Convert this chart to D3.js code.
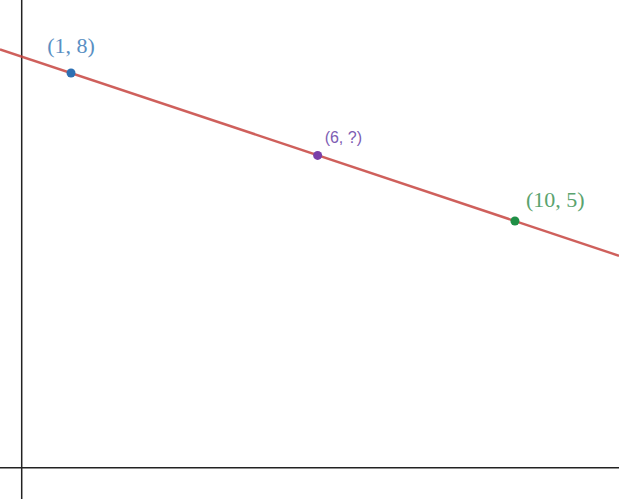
<!DOCTYPE html>
<html>
<head>
<meta charset="utf-8">
<script src="https://cdn.jsdelivr.net/npm/d3@7"></script>
<style>
  body { margin: 0; background: #fff; }
  svg { display: block; }
</style>
</head>
<body>
<div id="graph"></div>
<script>
var svgWidth = 619;
var svgHeight = 499;

// points on the line
var pointX = [1, 6, 10];
var pointY = [8, 6.33, 5];
var pointLabels = ["(1, 8)", "(6, ?)", "(10, 5)"];

// line passes through these two points
var lineX = [1, 10];
var lineY = [8, 5];

var xDomain = [-0.44, 12.11];
var yDomain = [-0.635, 9.48];

var dotColors = ["#2d70b3", "#7b3fa8", "#1f8f46"];
var labelColors = ["#5a8fc3", "#7d5db3", "#5aa36e"];

var svg = d3.select("#graph")
    .append("svg")
    .attr("width", svgWidth)
    .attr("height", svgHeight);

var xScale = d3.scaleLinear().domain(xDomain).range([0, svgWidth]);
var yScale = d3.scaleLinear().domain(yDomain).range([svgHeight, 0]);

// axes (no ticks, just the lines)
svg.append("line")
    .attr("x1", xScale(0)).attr("x2", xScale(0))
    .attr("y1", 0).attr("y2", svgHeight)
    .attr("stroke", "#222").attr("stroke-width", 1.5);

svg.append("line")
    .attr("x1", 0).attr("x2", svgWidth)
    .attr("y1", yScale(0)).attr("y2", yScale(0))
    .attr("stroke", "#222").attr("stroke-width", 1.5);

// extend line to the edges of the view
var slope = (lineY[1] - lineY[0]) / (lineX[1] - lineX[0]);
var yAt = x => lineY[0] + slope * (x - lineX[0]);

svg.append("line")
    .attr("x1", xScale(xDomain[0])).attr("y1", yScale(yAt(xDomain[0])))
    .attr("x2", xScale(xDomain[1])).attr("y2", yScale(yAt(xDomain[1])))
    .attr("stroke", "#c74440")
    .attr("stroke-opacity", 0.85)
    .attr("stroke-width", 2.5);

var points = pointX.map((x, i) => ({x: x, y: pointY[i], label: pointLabels[i], i: i}));

svg.selectAll(".dot")
    .data(points)
    .enter()
    .append("circle")
    .attr("class", "dot")
    .attr("cx", d => xScale(d.x))
    .attr("cy", d => yScale(d.y))
    .attr("r", 4.5)
    .attr("fill", d => dotColors[d.i]);

// label placement: first is centered above, others up-right
var labelDx = [0, 7, 11];
var labelDy = [-20, -12.5, -14];
var labelAnchor = ["middle", "start", "start"];
var labelFont = ["'Liberation Serif', serif", "'Liberation Sans', Arial, sans-serif", "'Liberation Serif', serif"];
var labelSize = [22, 16, 22];

svg.selectAll(".label")
    .data(points)
    .enter()
    .append("text")
    .attr("class", "label")
    .attr("x", d => xScale(d.x) + labelDx[d.i])
    .attr("y", d => yScale(d.y) + labelDy[d.i])
    .attr("text-anchor", d => labelAnchor[d.i])
    .attr("font-family", d => labelFont[d.i])
    .attr("font-size", d => labelSize[d.i])
    .attr("fill", d => labelColors[d.i])
    .text(d => d.label);
</script>
</body>
</html>
